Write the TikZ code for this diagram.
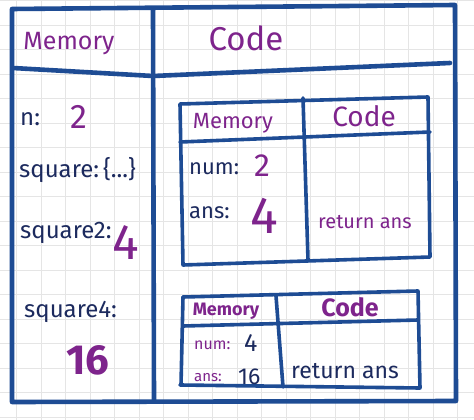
\documentclass[tikz,border=0pt]{standalone}
\usepackage{fontspec}
\setmainfont{Fira Sans}
\usepackage{xcolor}
\definecolor{inkblue}{RGB}{30,76,148}
\definecolor{inkpurple}{RGB}{126,36,140}
\definecolor{inknavy}{RGB}{28,42,94}

\begin{document}
\begin{tikzpicture}[x=1pt,y=-1pt,line cap=round,line join=round,
  frameline/.style={inkblue,line width=4.6pt},
  innerline/.style={inkblue,line width=3.6pt},
  gridline/.style={black!10,line width=0.6pt},
  headtxt/.style={inkpurple,inner sep=0pt},
  vartxt/.style={inknavy,inner sep=0pt},
  valtxt/.style={inkpurple,inner sep=0pt}]
\useasboundingbox (0,0) rectangle (474,420);
\fill[white] (0,0) rectangle (474,420);
% squared paper
\foreach \gx in {16.5,41,...,474} \draw[gridline] (\gx,0) -- (\gx,420);
\foreach \gy in {0.5,25,...,420} \draw[gridline] (0,\gy) -- (474,\gy);

% outer frame
\draw[frameline] (12,9) -- (455,5) -- (456,401) -- (12,402) -- cycle;
\draw[frameline] (13,68) -- (153,76) -- (450,63);
\draw[frameline] (153,10) -- (154,401);
\node[headtxt,font=\fontsize{25}{27}\selectfont] (memhead) at (69,44) {Memory};
\node[headtxt,font=\fontsize{33}{35}\selectfont] (codehead) at (246,38) {Code};

% global memory
\node[vartxt,font=\fontsize{24}{26}\selectfont,anchor=west] (nlbl) at (20,119) {n:};
\node[valtxt,font=\fontsize{34}{36}\selectfont,anchor=west] (nval) at (70,117) {2};
\node[vartxt,font=\fontsize{24}{26}\selectfont,anchor=west] (sqlbl) at (19,170) {square:\,\{...\}};
\node[vartxt,font=\fontsize{24}{26}\selectfont,anchor=west] (sq2lbl) at (20,233) {square2:};
\node[valtxt,font=\fontsize{50}{52}\selectfont,anchor=west] (sq2val) at (112,243) {4};
\node[vartxt,font=\fontsize{24}{26}\selectfont,anchor=west] (sq4lbl) at (24,312) {square4:};
\node[valtxt,font=\fontsize{42}{44}\selectfont\bfseries] (sq4val) at (88,360) {16};

% first call: square(2)
\draw[innerline] (180,104) -- (428,97) -- (430,257) -- (183,265) -- cycle;
\draw[innerline] (180,142) -- (430,132);
\draw[innerline] (303,98) -- (308,260);
\node[headtxt,font=\fontsize{22}{24}\selectfont] (memone) at (233,123) {Memory};
\node[headtxt,font=\fontsize{28}{30}\selectfont] (codeone) at (364,116) {Code};
\node[vartxt,font=\fontsize{22}{24}\selectfont,anchor=west] (numone) at (189,169) {num:};
\node[valtxt,font=\fontsize{32}{34}\selectfont,anchor=west] (numoneval) at (254,166) {2};
\node[vartxt,font=\fontsize{22}{24}\selectfont,anchor=west] (ansone) at (189,213) {ans:};
\node[valtxt,font=\fontsize{52}{54}\selectfont,anchor=west] (ansoneval) at (250,216) {4};
\node[valtxt,font=\fontsize{20}{22}\selectfont] (retone) at (365,222) {return ans};

% second call: square(4)
\draw[innerline] (183,297) -- (418,291) -- (420,388) -- (180,385);
\draw[innerline] (183,297) -- (181,385);
\draw[innerline] (183,326) -- (418,320);
\draw[innerline] (276,296) -- (283,387);
\node[headtxt,font=\fontsize{18}{20}\selectfont\bfseries] (memtwo) at (226,311) {Memory};
\node[headtxt,font=\fontsize{25}{27}\selectfont\bfseries] (codetwo) at (350,307) {Code};
\node[valtxt,font=\fontsize{16}{18}\selectfont,anchor=west] (numtwo) at (194,345) {num:};
\node[vartxt,font=\fontsize{25}{27}\selectfont,anchor=west] (numtwoval) at (244,343) {4};
\node[valtxt,font=\fontsize{15}{17}\selectfont,anchor=west] (anstwo) at (194,378) {ans:};
\node[vartxt,font=\fontsize{23}{25}\selectfont,anchor=west] (anstwoval) at (238,377) {16};
\node[vartxt,font=\fontsize{23}{25}\selectfont] (rettwo) at (345,371) {return ans};
\end{tikzpicture}
\end{document}
